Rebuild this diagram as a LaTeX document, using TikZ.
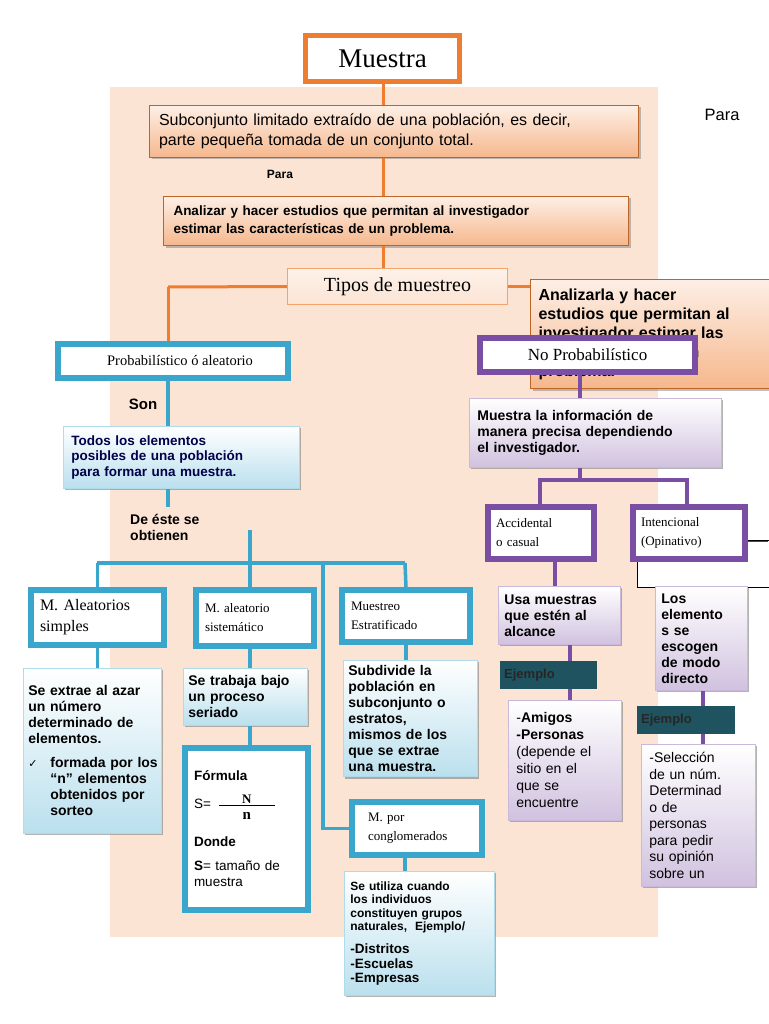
\documentclass[tikz,border=0pt]{standalone}
\usepackage{fontspec}
\setmainfont{Liberation Serif}
\newfontfamily\ar{Liberation Sans}
\newfontfamily\dvsans{DejaVu Sans}
\usetikzlibrary{shadows}
\definecolor{peach}{HTML}{FCE4D4}
\definecolor{org}{HTML}{EE7D2F}
\definecolor{blu}{HTML}{3AA6CC}
\definecolor{pur}{HTML}{7A4FA3}
\definecolor{teal}{HTML}{1F535F}
\tikzset{
 base/.style={anchor=north west,inner sep=6pt,align=left},
 obox/.style={base,draw=org!80!black,line width=1pt,top color=peach!60,bottom color=org!55,drop shadow={shadow xshift=2pt,shadow yshift=-2pt,opacity=.5}},
 bbox/.style={base,draw=blu!40,line width=.8pt,top color=white,bottom color=blu!35,drop shadow={shadow xshift=2pt,shadow yshift=-2pt,opacity=.6}},
 pbox/.style={base,draw=pur!40,line width=.8pt,top color=white,bottom color=pur!35,drop shadow={shadow xshift=2pt,shadow yshift=-2pt,opacity=.6}},
 bframe/.style={base,draw=blu,fill=white,line width=6pt},
 pframe/.style={base,draw=pur,fill=white,line width=6pt},
 ejb/.style={base,fill=teal,inner sep=4pt},
 ol/.style={draw=org,line width=3pt},
 bl/.style={draw=blu,line width=3.5pt},
 pl/.style={draw=pur,line width=3.5pt},
 sm/.style={font=\ar\bfseries\fontsize{14}{16}\selectfont},
}
\begin{document}
\begin{tikzpicture}[x=1pt,y=-1pt]
\useasboundingbox (0,0) rectangle (768,1024);
\fill[peach] (110,87) rectangle (658,937);
\coordinate (oj) at (168,287);
\coordinate (ox) at (383,0);
\node[base,draw=org,line width=5pt,fill=white,minimum width=154pt,minimum height=46pt,font=\fontsize{27}{30}\selectfont,inner sep=8pt] (mu) at (303,33) {Muestra};
\node[obox,minimum width=489pt,minimum height=52pt,text width=470pt,font=\ar\fontsize{16}{20}\selectfont,inner sep=8pt] (b1) at (149,105) {Subconjunto limitado extraído de una población, es decir,\\ parte pequeña tomada de un conjunto total.};
\node[obox,minimum width=465pt,minimum height=49pt,text width=445pt,font=\ar\bfseries\fontsize{13.5}{18}\selectfont,inner sep=8pt] (b2) at (163,196) {Analizar y hacer estudios que permitan al investigador\\ estimar las características de un problema.};
\node[base,draw=org!70,line width=1pt,top color=peach!50,bottom color=peach,minimum width=220pt,minimum height=36pt,font=\fontsize{20}{22}\selectfont,inner sep=8pt] (tip) at (287,268) {Tipos de muestreo};
\draw[ol] (mu.south -| ox) -- (b1.north -| ox);
\draw[ol] (b1.south -| ox) -- (b2.north -| ox);
\draw[ol] (b2.south -| ox) -- (tip.north -| ox);
\node[font=\ar\bfseries\fontsize{12}{13}\selectfont] (para1) at (280,174) {Para};
\node[font=\ar\fontsize{16.5}{18}\selectfont] (para2) at (722,115) {Para};
\node[obox,minimum width=238pt,minimum height=109pt,text width=226pt,font=\ar\bfseries\fontsize{16}{19}\selectfont,inner sep=8pt] (an) at (530,279) {Analizarla y hacer\\estudios que permitan al\\investigador estimar las\\características de un\\problema.};
\draw[ol] (tip.east) -- (an.west |- tip.east);
\node[bframe,minimum width=230pt,minimum height=34pt,font=\fontsize{14.5}{16}\selectfont,inner sep=9pt] (prob) at (55,341) {\hspace{14pt}Probabilístico ó aleatorio};
\draw[ol] (tip.west) -- (oj);
\draw[ol] (oj) -- (oj |- prob.north);
\node[pframe,minimum width=215pt,minimum height=34pt,font=\fontsize{17}{19}\selectfont,inner sep=7pt] (np) at (477,335) {No Probabilístico};
\node[font=\ar\bfseries\fontsize{15}{16}\selectfont] (son) at (143,404) {Son};
\node[bbox,minimum width=236pt,minimum height=62pt,text width=220pt,font=\ar\bfseries\fontsize{13.5}{15.5}\selectfont,text=blue!30!black,inner sep=8pt] (todos) at (63,426) {Todos los elementos\\posibles de una población\\para formar una muestra.};
\draw[bl] (prob.south -| oj) -- (todos.north -| oj);
\node[base,sm,inner sep=0pt] (deeste) at (130,514) {De éste se\\obtienen};
\coordinate (t1) at (168,507);
\draw[bl] (todos.south -| t1) -- (t1);
\coordinate (hj) at (250,530);
\coordinate (hl) at (97,563);
\coordinate (hr) at (405,563);
\coordinate (sx) at (250,0);
\draw[bl] (hj) -- (hj |- hl);
\draw[bl] (hl) -- (hr);
\node[bframe,minimum width=133pt,minimum height=55pt,text width=115pt,font=\fontsize{16}{21}\selectfont,inner sep=9pt] (ms) at (28,587) {M. Aleatorios\\simples};
\node[bframe,minimum width=115pt,minimum height=56pt,text width=100pt,font=\fontsize{13}{19}\selectfont,inner sep=9pt] (sis) at (193,587) {M. aleatorio\\sistemático};
\node[bframe,minimum width=128pt,minimum height=52pt,text width=110pt,font=\fontsize{13}{19}\selectfont,inner sep=9pt] (est) at (339,587) {Muestreo\\Estratificado};
\node[bframe,minimum width=130pt,minimum height=53pt,text width=110pt,font=\fontsize{13}{19}\selectfont,inner sep=9pt] (con) at (349,799) {\hspace{6pt}M. por\\\hspace{6pt}conglomerados};
\draw[bl] (ms.north |- hl) -- (ms.north);
\draw[bl] (hl -| sx) -- (sis.north -| sx);
\draw[bl] (hr) -- (est.north);
\coordinate (cj) at (323,563);
\draw[bl] (cj) -- (cj |- con.west) -- (con.west);
\node[bbox,sm,minimum width=138pt,minimum height=165pt,text width=128pt,inner sep=5pt] (d1) at (23,668) {Se extrae al azar\\un número\\determinado de\\elementos.\\[8pt]
\mbox{\makebox[22pt][l]{\dvsans\mdseries\fontsize{11}{11}\selectfont ✓}formada por los}\\\hspace*{22pt}“n” elementos\\\hspace*{22pt}obtenidos por\\\hspace*{22pt}sorteo};
\draw[bl] (ms.south) -- (ms.south |- d1.north);
\node[bbox,sm,minimum width=124pt,minimum height=57pt,text width=114pt,inner sep=5pt] (d2) at (183,668) {Se trabaja bajo\\un proceso\\seriado};
\draw[bl] (sis.south -| sx) -- (d2.north -| sx);
\node[bframe,minimum width=123pt,minimum height=162pt,text width=105pt,font=\ar\fontsize{13.5}{16}\selectfont,inner sep=9pt] (fo) at (182,745) {\textbf{Fórmula}\\[10pt]
S=\hspace{8pt}\raisebox{-3pt}{\rmfamily\bfseries\begin{tabular}{@{}c@{}}\makebox[56pt]{\fontsize{13}{13}\selectfont N}\\[-3pt]\hline\rule{0pt}{14pt}\fontsize{15}{15}\selectfont n\end{tabular}}\\[12pt]
\textbf{Donde}\\[8pt]\textbf{S}= tamaño de\\muestra};
\draw[bl] (d2.south -| sx) -- (fo.north -| sx);
\node[bbox,sm,minimum width=132pt,minimum height=115pt,text width=124pt,inner sep=5pt] (d3) at (343,660) {Subdivide la\\población en\\subconjunto o\\estratos,\\mismos de los\\que se extrae\\una muestra.};
\draw[bl] (est.south) -- (est.south |- d3.north);
\node[bbox,font=\ar\bfseries\fontsize{12}{13.5}\selectfont,minimum width=146pt,minimum height=124pt,text width=138pt,inner sep=6pt] (d4) at (344,871) {Se utiliza cuando\\los individuos\\constituyen grupos\\naturales,\ \ Ejemplo/\\[8pt]{\fontsize{13.5}{15}\selectfont -Distritos\\-Escuelas\\-Empresas}};
\draw[bl] (con.south -| hr) -- (d4.north -| hr);
\node[pbox,sm,minimum width=248pt,minimum height=69pt,text width=236pt,inner sep=8pt] (mi) at (469,398) {Muestra la información de\\manera precisa dependiendo\\el investigador.};
\coordinate (pj) at (580,480);
\draw[pl] (np.south -| pj) -- (mi.north -| pj);
\draw[pl] (mi.south -| pj) -- (pj);
\node[pframe,minimum width=102pt,minimum height=52pt,text width=90pt,font=\fontsize{13}{19}\selectfont,inner sep=8pt] (acc) at (485,504) {Accidental\\o casual};
\draw[line width=1pt,fill=white] (637,540) rectangle (770,587);
\node[pframe,minimum width=108pt,minimum height=52pt,text width=96pt,font=\fontsize{13}{19}\selectfont,inner sep=8pt] (int) at (630,504) {Intencional\\(Opinativo)};
\coordinate (ax) at (540,0);
\coordinate (ix) at (687,0);
\draw[pl] (acc.north -| ax) -- (pj -| ax) -- (pj -| ix) -- (int.north -| ix);
\coordinate (ie) at (768,541);
\draw[line width=1pt,black!70] (int.east |- ie) -- (ie);
\node[pbox,sm,minimum width=119pt,minimum height=58pt,text width=110pt,inner sep=6pt] (us) at (498,586) {Usa muestras\\que estén al\\alcance};
\draw[pl] (acc.south -| 555,0) -- (us.north -| 555,0);
\node[ejb,minimum width=97pt,minimum height=28pt,text width=89pt,font=\ar\bfseries\fontsize{13}{14}\selectfont,text=black!85] (ej1) at (500,661) {Ejemplo};
\draw[pl] (us.south -| 570,0) -- (ej1.north -| 570,0);
\node[pbox,font=\ar\fontsize{14}{17}\selectfont,minimum width=109pt,minimum height=120pt,text width=97pt,inner sep=8pt] (am) at (508,700) {-\textbf{Amigos}\\\textbf{-Personas}\\(depende el\\sitio en el\\que se\\encuentre\\[16pt]};
\draw[pl] (ej1.south -| 570,0) -- (am.north -| 570,0);
\node[pbox,sm,minimum width=88pt,minimum height=104pt,text width=80pt,inner sep=6pt] (le) at (655,586) {Los\\elemento\\s se\\escogen\\de modo\\directo};
\node[ejb,minimum width=98pt,minimum height=28pt,text width=90pt,font=\ar\bfseries\fontsize{13}{14}\selectfont,text=black!85] (ej2) at (637,706) {Ejemplo};
\draw[pl] (le.south -| 703,0) -- (ej2.north -| 703,0);
\node[pbox,font=\ar\fontsize{14}{16.5}\selectfont,minimum width=108pt,minimum height=142pt,text width=98pt,inner sep=8pt] (se) at (641,744) {-Selección\\de un núm.\\Determinad\\o de\\personas\\para pedir\\su opinión\\sobre un};
\draw[pl] (ej2.south -| 703,0) -- (se.north -| 703,0);
\end{tikzpicture}
\end{document}
